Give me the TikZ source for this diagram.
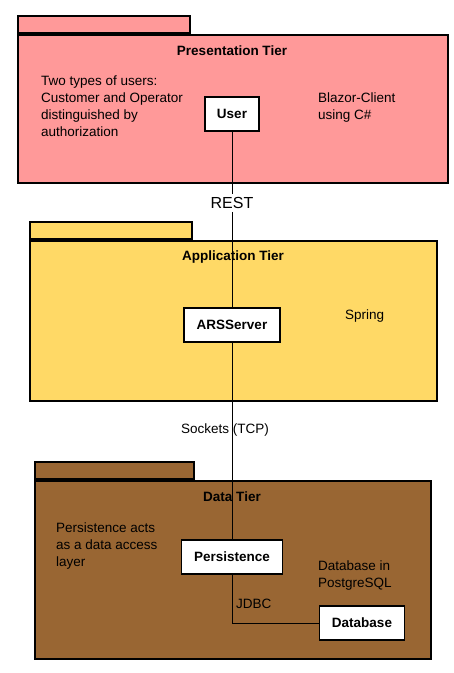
\documentclass[tikz,border=0pt]{standalone}
\usepackage{fontspec}
\setmainfont{Liberation Sans}
\usetikzlibrary{positioning}
\definecolor{presred}{HTML}{FF9999}
\definecolor{appyellow}{HTML}{FFD966}
\definecolor{databrown}{HTML}{996633}
\tikzset{
  package/.style={
    draw=black,
    line width=1.6pt,
    fill=#1,
    inner sep=0pt,
    anchor=north west,
  },
  tab/.style={
    package=#1,
    minimum height=17pt,
    anchor=south west,
  },
  comp/.style={
    draw=black,
    line width=1.6pt,
    fill=white,
    font=\fontsize{13.5}{15}\selectfont\bfseries,
    minimum height=34pt,
    inner xsep=0pt,
  },
  tier title/.style={
    font=\fontsize{13.5}{15}\selectfont\bfseries,
  },
  note/.style={
    align=left,
    anchor=north west,
    inner sep=0pt,
    font=\fontsize{13.5}{17}\selectfont,
  },
  link/.style={
    draw=black,
    line width=0.8pt,
  },
}

\begin{document}
\begin{tikzpicture}[x=1pt, y=-1pt]
    \useasboundingbox (0,0) rectangle (454,673);

    % packages
    \node [package=presred, minimum width=430pt, minimum height=148pt] (pres) at (17,34) {};
    \node [tab=presred, minimum width=172pt] (prestab) at (pres.north west) {};
    \node [package=appyellow, minimum width=407pt, minimum height=160pt] (app) at (29,240) {};
    \node [tab=appyellow, minimum width=162pt] (apptab) at (app.north west) {};
    \node [package=databrown, minimum width=396pt, minimum height=178pt] (data) at (34,480) {};
    \node [tab=databrown, minimum width=159pt] (datatab) at (data.north west) {};

    \node [tier title] (prestitle) at (232,51) {Presentation Tier};
    \node [tier title] (apptitle) at (233,257) {Application Tier};
    \node [tier title] (datatitle) at (232,497) {Data Tier};

    % notes
    \node [note] (usernote) at (41,76) {Two types of users:\\Customer and Operator\\distinguished by\\authorization};
    \node [note] (blazornote) at (318,93) {Blazor-Client\\using C\#};
    \node [note] (springnote) at (345,310) {Spring};
    \node [note] (persnote) at (56,523) {Persistence acts\\as a data access\\layer};
    \node [note] (dbnote) at (318,561) {Database in\\PostgreSQL};

    % components
    \node [comp, minimum width=54pt] (user) at (232,114) {User};
    \node [comp, minimum width=96pt] (ars) at (232,325) {ARSServer};
    \node [comp, minimum width=101pt] (pers) at (232,557) {Persistence};
    \node [comp, minimum width=85pt] (db) at (362,623) {Database};

    % connectors
    \node [font=\fontsize{16}{18}\selectfont, inner sep=3pt] (rest) at (232,203) {REST};
    \draw [link] (user) -- (rest);
    \draw [link] (rest) -- (ars);
    \draw [link] (ars) -- (pers);
    \node [font=\fontsize{13.5}{15}\selectfont] (sockets) at (225,430) {Sockets (TCP)};
    \draw [link] (pers.south) |- (db.west);
    \node [font=\fontsize{13.5}{15}\selectfont, anchor=west, inner sep=0pt] (jdbc) at (236,604) {JDBC};
\end{tikzpicture}
\end{document}
